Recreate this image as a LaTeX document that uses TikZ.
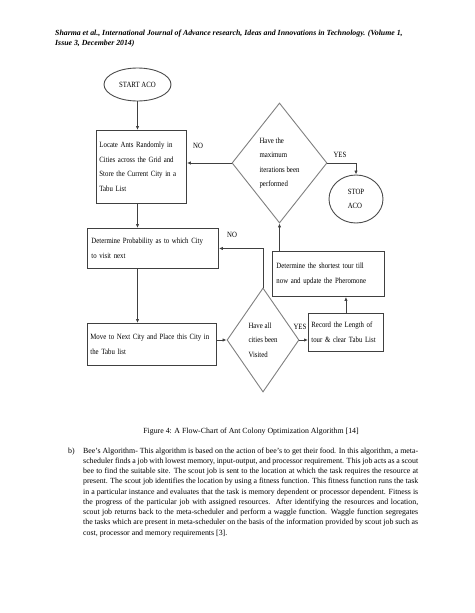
\documentclass[tikz,border=0pt]{standalone}
\usepackage{fontspec}
\setmainfont{Liberation Serif}
\newfontfamily\fcfont{Liberation Serif}[FakeStretch=0.85]
\usetikzlibrary{shapes.geometric,arrows.meta}
\begin{document}
\begin{tikzpicture}[x=1pt,y=-1pt,
  fc/.style={font=\fcfont\fontsize{8}{14.5}\selectfont},
  procbox/.style={draw=black!75,line width=0.9pt,rectangle,fc,align=left,inner xsep=3pt,inner ysep=0pt,anchor=north west},
  decis/.style={draw=black!50,line width=0.9pt,diamond,fc,align=left,inner sep=0pt},
  term/.style={draw=black!70,line width=0.9pt,ellipse,fc,align=left,inner sep=0pt},
  conn/.style={draw=black!75,line width=0.9pt,-{Latex[length=4pt,width=3.4pt]}},
  lbl/.style={fc,inner sep=0pt},
  bodytxt/.style={font=\fontsize{7.85}{10.25}\selectfont,inner sep=0pt,anchor=base west},
  headtxt/.style={font=\fontsize{7.8}{9.5}\selectfont\bfseries\itshape,inner sep=0pt,anchor=base west}]
\fill[white] (0,0) rectangle (474,613);
\useasboundingbox (0,0) rectangle (474,613);

% header
\node[headtxt] (h1) at (55,35.5) {Sharma et al., International Journal of Advance research, Ideas and Innovations in Technology. (Volume 1,};
\node[headtxt] (h2) at (55,45) {Issue 3, December 2014)};

% flowchart
\node[term,minimum width=67pt,minimum height=33pt] (start) at (137.5,84.5) {START ACO};
\node[procbox,text width=84pt,minimum width=90pt,minimum height=73pt] (locate) at (96,130)
  {Locate Ants Randomly in\\Cities across the Grid and\\Store the Current City in a\\Tabu List};
\node[procbox,text width=123pt,minimum width=130pt,minimum height=40pt,inner xsep=4pt] (prob) at (87,228)
  {Determine Probability as to which City\\to visit next};
\node[procbox,text width=123pt,minimum width=129pt,minimum height=42pt] (move) at (87,323)
  {Move to Next City and Place this City in\\the Tabu list};
\node[decis,minimum width=95pt,minimum height=120pt] (d1) at (279.5,163)
  {Have the\\maximum\\iterations been\\performed};
\node[term,minimum width=54pt,minimum height=48pt] (stop) at (356,199) {STOP\\ACO};
\node[procbox,text width=104pt,minimum width=111pt,minimum height=45pt,inner xsep=4pt] (short) at (272,251)
  {Determine the shortest tour till\\now and update the Pheromone};
\node[decis,minimum width=72pt,minimum height=104pt] (d2) at (263,340)
  {Have all\\cities been\\Visited};
\node[procbox,text width=69pt,minimum width=75pt,minimum height=38pt] (record) at (308,313)
  {Record the Length of\\tour \& clear Tabu List};

\draw[conn] (start.south) -- (start.south |- locate.north);
\draw[conn] (start.south |- locate.south) -- (start.south |- prob.north);
\draw[conn] (start.south |- prob.south) -- (start.south |- move.north);
\draw[conn] (d2.west -| move.east) -- (d2.west);
\draw[conn] (d2.east) -- (d2.east -| record.west);
\draw[conn] (record.north) -- (record.north |- short.south);
\draw[conn] (d1.south |- short.north) -- (d1.south);
\draw[conn] (d1.west) -- (d1.west -| locate.east);
\draw[conn] (d1.east) -| (stop.north);
\draw[conn] (d2.north) |- (prob.east);

\node[lbl] (no1) at (198,146) {NO};
\node[lbl] (yes1) at (340,155) {YES};
\node[lbl] (no2) at (232,235) {NO};
\node[lbl] (yes2) at (300,327) {YES};

% caption
\node[bodytxt,anchor=base] (cap) at (251,433) {Figure 4: A Flow-Chart of Ant Colony Optimization Algorithm [14]};

% paragraph
\node[bodytxt] (pb) at (68,453) {b)};
\node[bodytxt] (p1) at (83,453) {\hbox to 335pt{Bee’s Algorithm- This algorithm is based on the action of bee’s to get their food. In this algorithm, a meta-}};
\node[bodytxt] (p2) at (83,463.25) {\hbox to 335pt{scheduler finds a job with lowest memory, input-output, and processor requirement. This job acts as a scout}};
\node[bodytxt] (p3) at (83,473.5) {\hbox to 335pt{bee to find the suitable site. The scout job is sent to the location at which the task requires the resource at}};
\node[bodytxt] (p4) at (83,483.75) {\hbox to 335pt{present. The scout job identifies the location by using a fitness function. This fitness function runs the task}};
\node[bodytxt] (p5) at (83,494) {\hbox to 335pt{in a particular instance and evaluates that the task is memory dependent or processor dependent. Fitness is}};
\node[bodytxt] (p6) at (83,504.25) {\hbox to 335pt{the progress of the particular job with assigned resources. After identifying the resources and location,}};
\node[bodytxt] (p7) at (83,514.5) {\hbox to 335pt{scout job returns back to the meta-scheduler and perform a waggle function. Waggle function segregates}};
\node[bodytxt] (p8) at (83,524.75) {\hbox to 335pt{the tasks which are present in meta-scheduler on the basis of the information provided by scout job such as}};
\node[bodytxt] (p9) at (83,535) {cost, processor and memory requirements [3].};
\end{tikzpicture}
\end{document}
